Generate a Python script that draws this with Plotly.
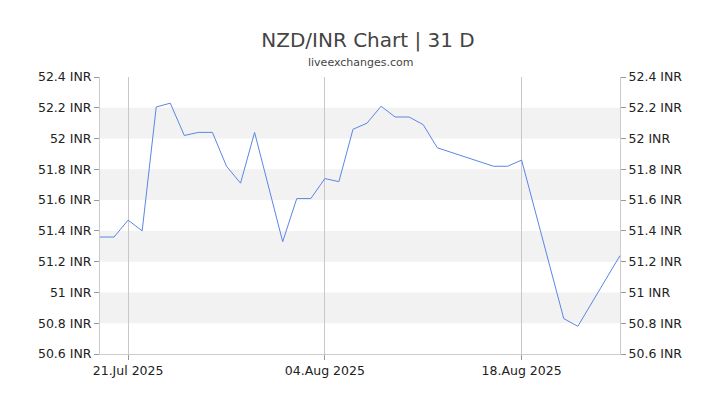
import plotly.graph_objects as go

dates = ["2025-07-19","2025-07-20","2025-07-21","2025-07-22","2025-07-23","2025-07-24","2025-07-25",
         "2025-07-26","2025-07-27","2025-07-28","2025-07-29","2025-07-30","2025-08-01","2025-08-02",
         "2025-08-03","2025-08-04","2025-08-05","2025-08-06","2025-08-07","2025-08-08","2025-08-09",
         "2025-08-10","2025-08-11","2025-08-12","2025-08-16","2025-08-17","2025-08-18","2025-08-21",
         "2025-08-22","2025-08-25"]
rates = [51.36,51.36,51.47,51.40,52.205,52.23,52.02,52.04,52.04,51.82,51.71,52.04,51.33,51.61,
         51.61,51.74,51.72,52.06,52.10,52.21,52.14,52.14,52.09,51.94,51.82,51.82,51.86,50.83,
         50.78,51.24]
tick_vals = [50.6,50.8,51.0,51.2,51.4,51.6,51.8,52.0,52.2,52.4]
tick_text = ["50.6 INR","50.8 INR","51 INR","51.2 INR","51.4 INR","51.6 INR","51.8 INR","52 INR","52.2 INR","52.4 INR"]
band_ranges = [(50.8,51.0),(51.2,51.4),(51.6,51.8),(52.0,52.2)]
date_ticks = ["2025-07-21","2025-08-04","2025-08-18"]
date_labels = ["21.Jul 2025","04.Aug 2025","18.Aug 2025"]

fig = go.Figure()
fig.add_trace(go.Scatter(x=dates, y=rates, mode="lines", line=dict(color="#5b86e5", width=1), showlegend=False))
fig.add_trace(go.Scatter(x=dates, y=rates, mode="lines", line=dict(width=0), opacity=0, yaxis="y2",
                         showlegend=False, hoverinfo="skip"))
for lo, hi in band_ranges:
    fig.add_shape(type="rect", xref="paper", yref="y", x0=0, x1=1, y0=lo, y1=hi,
                  fillcolor="#f2f2f2", line_width=0, layer="below")
yax = dict(range=[50.6,52.4], tickvals=tick_vals, ticktext=tick_text, showgrid=False, zeroline=False,
           ticks="outside", ticklen=5, tickcolor="#999", tickfont=dict(family="DejaVu Sans", size=12.5, color="#222"),
           showline=True, linecolor="#ccc")
fig.update_layout(
    width=720, height=405, plot_bgcolor="white", paper_bgcolor="white",
    margin=dict(l=92, r=108, t=69, b=59),
    title=dict(text="NZD/INR Chart | 31 D", x=0.5, xanchor="center", y=0.92, yanchor="middle",
               font=dict(family="DejaVu Sans", size=20, color="#444")),
    annotations=[dict(text="liveexchanges.com", xref="paper", yref="paper", x=0.5, y=1.0, yshift=6,
                      yanchor="bottom", showarrow=False, font=dict(family="DejaVu Sans", size=11, color="#444"))],
    xaxis=dict(range=["2025-07-19","2025-08-25"], tickvals=date_ticks, ticktext=date_labels,
               showgrid=True, gridcolor="#c8c8c8", ticks="outside", ticklen=5, tickcolor="#999",
               showline=True, linecolor="#ccc", zeroline=False,
               tickfont=dict(family="DejaVu Sans", size=12.5, color="#222")),
    yaxis=yax,
    yaxis2=dict(yax, overlaying="y", side="right"),
)
fig.write_html("out.html")
